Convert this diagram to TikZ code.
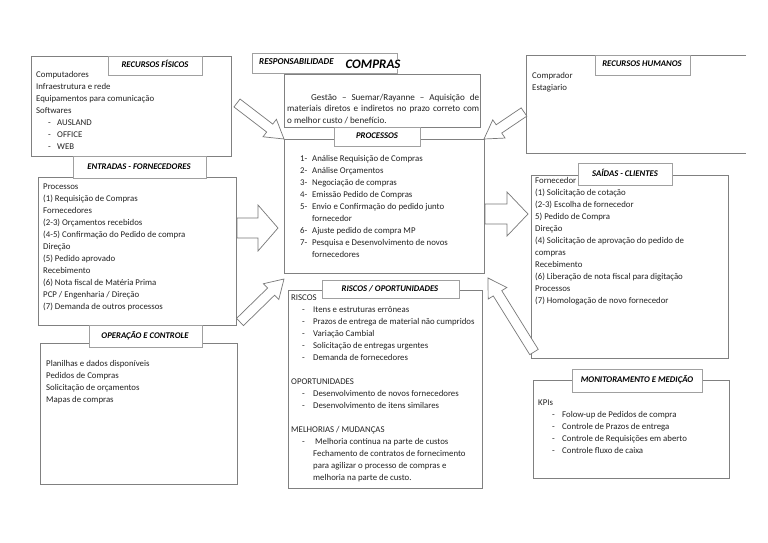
\documentclass[tikz,border=0pt]{standalone}
\usepackage{fontspec}
\setmainfont{Carlito}
\usetikzlibrary{calc}
\definecolor{boxgray}{RGB}{128,128,128}
\definecolor{tabgray}{RGB}{160,160,160}
\definecolor{arrgray}{RGB}{120,120,120}
\definecolor{txtcol}{RGB}{35,35,35}
\tikzset{
  bx/.style={draw=boxgray, line width=0.8pt, fill=white},
  tabbox/.style={draw=tabgray, line width=0.8pt, fill=white},
  ttl/.style={font=\fontsize{8.7}{10}\selectfont\bfseries\itshape, inner sep=0pt, text=black},
  txt/.style={font=\fontsize{8.8}{12}\selectfont, align=left, inner sep=0pt, anchor=north west, text=txtcol},
  arr/.style={draw=arrgray, line width=0.7pt, fill=white, line join=miter},
}
\newcommand\blockarr[5]{% tail, tip, shaft half width, head half width, head length
  \coordinate (hb) at ($(#2)!#5!(#1)$);
  \draw[arr] ($(#1)!#3!90:(#2)$) -- ($(hb)!#3!90:(#2)$) -- ($(hb)!#4!90:(#2)$) -- (#2)
    -- ($(hb)!#4!-90:(#2)$) -- ($(hb)!#3!-90:(#2)$) -- ($(#1)!#3!-90:(#2)$) -- cycle;
}
\newcommand\li[2]{\hspace*{#1}\makebox[#2][l]{-}}
\newcommand\st{\rule{0pt}{9pt}}
\begin{document}
\begin{tikzpicture}[x=1pt,y=-1pt]
\useasboundingbox (0,0) rectangle (768,543);
\fill[white] (0,0) rectangle (768,543);

% ---- boxes ----
\draw[bx] (31,56) rectangle (231,156);
\draw[bx] (38,177) rectangle (236,325);
\draw[bx] (40,343) rectangle (237,484);
\draw[tabbox] (252,53) rectangle (397,73);
\draw[bx] (284,74) rectangle (480,127);
\draw[bx] (284,139) rectangle (484,273);
\draw[bx] (288,290) rectangle (482,488);
\draw[bx, fill=none] (746,55) -- (526,55) -- (526,153) -- (746,153);
\draw[bx] (531,175) rectangle (728,358);
\draw[bx] (533,380) rectangle (729,478);

% ---- tabs ----
\draw[tabbox] (108,56) rectangle (202,75);
\draw[tabbox] (73,156) rectangle (206,178);
\draw[tabbox] (89,325) rectangle (202,347);
\draw[tabbox] (334,127) rectangle (420,146);
\draw[tabbox] (322,280) rectangle (459,298);
\draw[tabbox] (595,55) rectangle (690,75);
\draw[tabbox] (578,163) rectangle (672,185);
\draw[tabbox] (572,369) rectangle (702,392);

% ---- titles ----
\node[ttl] (tRF) at (155,64) {RECURSOS FÍSICOS};
\node[ttl] (tEN) at (139,167) {ENTRADAS - FORNECEDORES};
\node[ttl] (tOP) at (145,336) {OPERAÇÃO E CONTROLE};
\node[ttl, anchor=west, font=\fontsize{9}{10}\selectfont\bfseries\itshape] (tRE) at (259,62) {RESPONSABILIDADE};
\node[font=\fontsize{13}{15}\selectfont\bfseries\itshape, fill=white, inner xsep=6pt, inner ysep=1pt] (tCO) at (373,64) {COMPRAS};
\node[ttl] (tPR) at (377,136) {PROCESSOS};
\node[ttl] (tRI) at (390,289) {RISCOS / OPORTUNIDADES};
\node[ttl] (tRH) at (642,64) {RECURSOS HUMANOS};
\node[ttl] (tSA) at (625,173) {SAÍDAS - CLIENTES};
\node[ttl] (tMO) at (637,380) {MONITORAMENTO E MEDIÇÃO};

% ---- texts ----
\node[txt] (xRF) at (36,68) {\st Computadores\\ Infraestrutura e rede\\ Equipamentos para comunicação\\ Softwares\\
  \li{12pt}{9pt}AUSLAND\\ \li{12pt}{9pt}OFFICE\\ \li{12pt}{9pt}WEB};
\node[txt] (xEN) at (43,180) {\st Processos\\ (1) Requisição de Compras\\ Fornecedores\\ (2-3) Orçamentos recebidos\\
  (4-5) Confirmação do Pedido de compra\\ Direção\\ (5) Pedido aprovado\\ Recebimento\\
  (6) Nota fiscal de Matéria Prima\\ PCP / Engenharia / Direção\\ (7) Demanda de outros processos};
\node[txt] (xOP) at (46,357) {\st Planilhas e dados disponíveis\\ Pedidos de Compras\\ Solicitação de orçamentos\\ Mapas de compras};
\node[txt, text width=192pt, align=justify, font=\fontsize{9.1}{11.5}\selectfont] (xGE) at (287,91) {\st\hspace*{24pt}Gestão – Suemar/Rayanne – Aquisição de\linebreak
  materiais diretos e indiretos no prazo correto com\linebreak o melhor custo / benefício.};
\node[txt] (xPR) at (300,152) {\st\makebox[12pt][l]{1-}Análise Requisição de Compras\\ \makebox[12pt][l]{2-}Análise Orçamentos\\
  \makebox[12pt][l]{3-}Negociação de compras\\ \makebox[12pt][l]{4-}Emissão Pedido de Compras\\
  \makebox[12pt][l]{5-}Envio e Confirmação do pedido junto\\ \hspace*{12pt}fornecedor\\
  \makebox[12pt][l]{6-}Ajuste pedido de compra MP\\ \makebox[12pt][l]{7-}Pesquisa e Desenvolvimento de novos\\
  \hspace*{12pt}fornecedores};
\node[txt] (xRI) at (291,291) {\st RISCOS\\ \li{11pt}{11pt}Itens e estruturas errôneas\\
  \li{11pt}{11pt}Prazos de entrega de material não cumpridos\\ \li{11pt}{11pt}Variação Cambial\\
  \li{11pt}{11pt}Solicitação de entregas urgentes\\ \li{11pt}{11pt}Demanda de fornecedores\\[12pt]
  OPORTUNIDADES\\ \li{11pt}{11pt}Desenvolvimento de novos fornecedores\\ \li{11pt}{11pt}Desenvolvimento de itens similares\\[12pt]
  MELHORIAS / MUDANÇAS\\ \li{11pt}{13pt}Melhoria contínua na parte de custos\\
  \hspace*{22pt}Fechamento de contratos de fornecimento\\ \hspace*{22pt}para agilizar o processo de compras e\\
  \hspace*{22pt}melhoria na parte de custo.};
\node[txt] (xRH) at (532,69) {\st Comprador\\ Estagiario};
\node[txt] (xSA) at (535,174) {\st Fornecedor\\ (1) Solicitação de cotação\\ (2-3) Escolha de fornecedor\\ 5) Pedido de Compra\\
  Direção\\ (4) Solicitação de aprovação do pedido de\\ compras\\ Recebimento\\
  (6) Liberação de nota fiscal para digitação\\ Processos\\ (7) Homologação de novo fornecedor};
\node[txt] (xMO) at (538,396) {\st KPIs\\ \li{14pt}{10pt}Folow-up de Pedidos de compra\\ \li{14pt}{10pt}Controle de Prazos de entrega\\
  \li{14pt}{10pt}Controle de Requisições em aberto\\ \li{14pt}{10pt}Controle fluxo de caixa};

% ---- arrows ----
\coordinate (aRFt) at (237,103);  \coordinate (aRFh) at (284,139);
\coordinate (aENt) at (237,228);  \coordinate (aENh) at (278,228);
\coordinate (aOPt) at (240,322);  \coordinate (aOPh) at (284,279);
\coordinate (aRHt) at (524,112);  \coordinate (aRHh) at (484,139);
\coordinate (aSAt) at (485,214);  \coordinate (aSAh) at (528,214);
\coordinate (aMOt) at (534,352);  \coordinate (aMOh) at (488,278);
\blockarr{aRFt}{aRFh}{5pt}{11pt}{18pt}
\blockarr{aENt}{aENh}{10pt}{23pt}{20pt}
\blockarr{aOPt}{aOPh}{5pt}{11pt}{18pt}
\blockarr{aRHt}{aRHh}{5pt}{11pt}{18pt}
\blockarr{aSAt}{aSAh}{10pt}{22pt}{21pt}
\blockarr{aMOt}{aMOh}{5pt}{11pt}{18pt}
\end{tikzpicture}
\end{document}
